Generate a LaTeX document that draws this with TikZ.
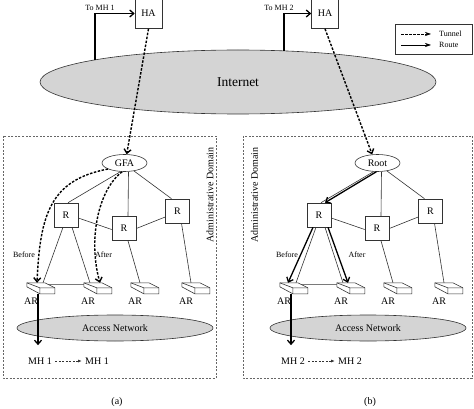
\documentclass[tikz,border=0pt]{standalone}
\usepackage{fontspec}
\setmainfont{Liberation Serif}
\usetikzlibrary{calc,positioning,arrows.meta,shapes}

\begin{document}
\begin{tikzpicture}[x=1pt,y=-1pt,
		link/.style={draw=black!80,line width=0.6pt},
		box/.style={link,fill=white,minimum size=24,inner sep=0},
		hub/.style={link,ellipse,fill=white,minimum width=45,minimum height=17,inner sep=0},
		net/.style={link,ellipse,fill=black!17,inner sep=0},
		arbox/.style={minimum width=28,minimum height=11,inner sep=0},
		small/.style={font=\footnotesize,inner sep=1},
		route/.style={line width=1.3pt,-{Straight Barb[length=4pt,width=7pt]}},
		tunnel/.style={line width=1.4pt,dash pattern=on 2.5pt off 1.5pt,-{Straight Barb[length=4pt,width=7pt]}},
		frame/.style={draw=black!60,line width=0.5pt,dash pattern=on 2pt off 1.5pt}]
		\useasboundingbox (0,0) rectangle (474,409);

		\node[net,minimum width=396,minimum height=64,font=\fontsize{13.5}{16}\selectfont] (inet) at (238,82) {Internet};
		\node[box,minimum width=27,minimum height=30] (ha1) at (148.5,13.5) {HA};
		\node[box,minimum width=27,minimum height=30] (ha2) at (325,13.5) {HA};
		\coordinate (to1) at (95,60);
		\coordinate (to2) at (284,51);
		\draw[route] (to1) |- (ha1.west);
		\draw[route] (to2) |- (ha2.west);
		\node[small] (to1-t) at (100,8) {To MH 1};
		\node[small] (to2-t) at (279,8) {To MH 2};

		\node[link,fill=white,minimum width=77,minimum height=30,inner sep=0] (legend) at (433.5,39) {};
		\node[small,anchor=west] (lg-t) at (438,34) {Tunnel};
		\node[small,anchor=west] (lg-r) at (438,45) {Route};
		\draw[line width=0.6pt,dash pattern=on 2.5pt off 1.5pt,-{Stealth[length=6pt,width=4pt]}] ([xshift=-37]lg-t.west) -- ([xshift=-7]lg-t.west);
		\draw[line width=0.6pt,-{Stealth[length=6pt,width=4pt]}] ([xshift=-37]lg-r.west) -- ([xshift=-7]lg-r.west);

		\foreach \p/\dx/\hubname/\m in {a/0/GFA/1,b/253/Root/2}{
		\begin{scope}[xshift=\dx,name prefix=\p-]
			\node[hub] (gw) at (124.5,163) {\hubname};
			\node[box] (r1) at (66,215) {R};
			\node[box] (r2) at (124,228.5) {R};
			\node[box] (r3) at (177.5,211) {R};
			\foreach \i/\x in {1/41,2/98,3/145,4/196}{
				\node[arbox] (ar\i) at (\x,288.5) {};
				\node (ar\i-t) at (\x-10,301) {AR};
			}
			\draw[link] (gw.245) -- ([xshift=2]r1.north)
				([xshift=4]gw.south) -- ([xshift=4]r2.north)
				(gw.-40) -- ([xshift=-6]r3.north)
				([yshift=-3]r1.east) -- ([yshift=-1]r2.west)
				(r2.east) -- ([yshift=-6]r3.west)
				([xshift=-3]r1.south) -- ([xshift=2]ar1.north)
				([xshift=6]r1.south) -- ([xshift=-8]ar2.north)
				([xshift=4]r2.south) -- ([xshift=-5]ar3.north)
				([xshift=4]r3.south) -- ([xshift=-5]ar4.north)
				([yshift=-1.5]ar1.north) -- ([yshift=-1.5]ar2.north);
			\foreach \i in {1,...,4}{
				\filldraw[link,fill=white] (ar\i.north west) -- ++(18,0) -- ++(10,5) -- ++(0,6) -- ++(-15,0) -- ++(-13,-7) -- cycle;
				\draw[link] (ar\i.north west) -- ++(13,5) -- ++(15,0) ++(-15,0) -- ++(0,6);
			}
			\node[net,minimum width=196,minimum height=26] (acc) at (115,328) {Access Network};
			\node (mh) at (40,361) {MH \m};
			\node (mhb) at (97,361) {MH \m};
			\draw[link,dash pattern=on 2pt off 1.5pt,-{Latex[length=3.5pt,width=3pt]}] (mh) -- (mhb);
			\draw[route,shorten >=9pt] ([xshift=-3]ar1.south) -- ([xshift=-3]mh.north -| ar1.south);
			\node (cap) at (117,402) {(\p)};
		\end{scope}}

		\draw[frame] (3,136) rectangle (216,378);
		\draw[frame] (243,136) rectangle (472,378);
		\node[rotate=90] (adm-a) at (210,195) {Administrative Domain};
		\node[rotate=90] (adm-b) at (254.5,195) {Administrative Domain};

		\draw[tunnel] (ha1.south) -- (a-gw.76);
		\draw[tunnel] (ha2.south) -- (b-gw.122);
		\draw[tunnel] (a-gw.200) .. controls (50,180) and (40,215) .. ([xshift=-4]a-ar1.north);
		\draw[tunnel] (a-gw.255) .. controls (98,190) and (88,240) .. ([xshift=2]a-ar2.north);
		\node[small] (a-before) at (24,255) {Before};
		\node[small] (a-after) at (103.5,255) {After};

		\draw[route] ([xshift=3]b-gw.245) -- ([xshift=6]b-r1.north);
		\draw[route] ([xshift=-6]b-r1.south) -- ([xshift=-6]b-ar1.north);
		\draw[route] ([xshift=9]b-r1.south) -- ([xshift=-3]b-ar2.north);
		\node[small] (b-before) at (287,255) {Before};
		\node[small] (b-after) at (357,255) {After};
	\end{tikzpicture}
\end{document}
